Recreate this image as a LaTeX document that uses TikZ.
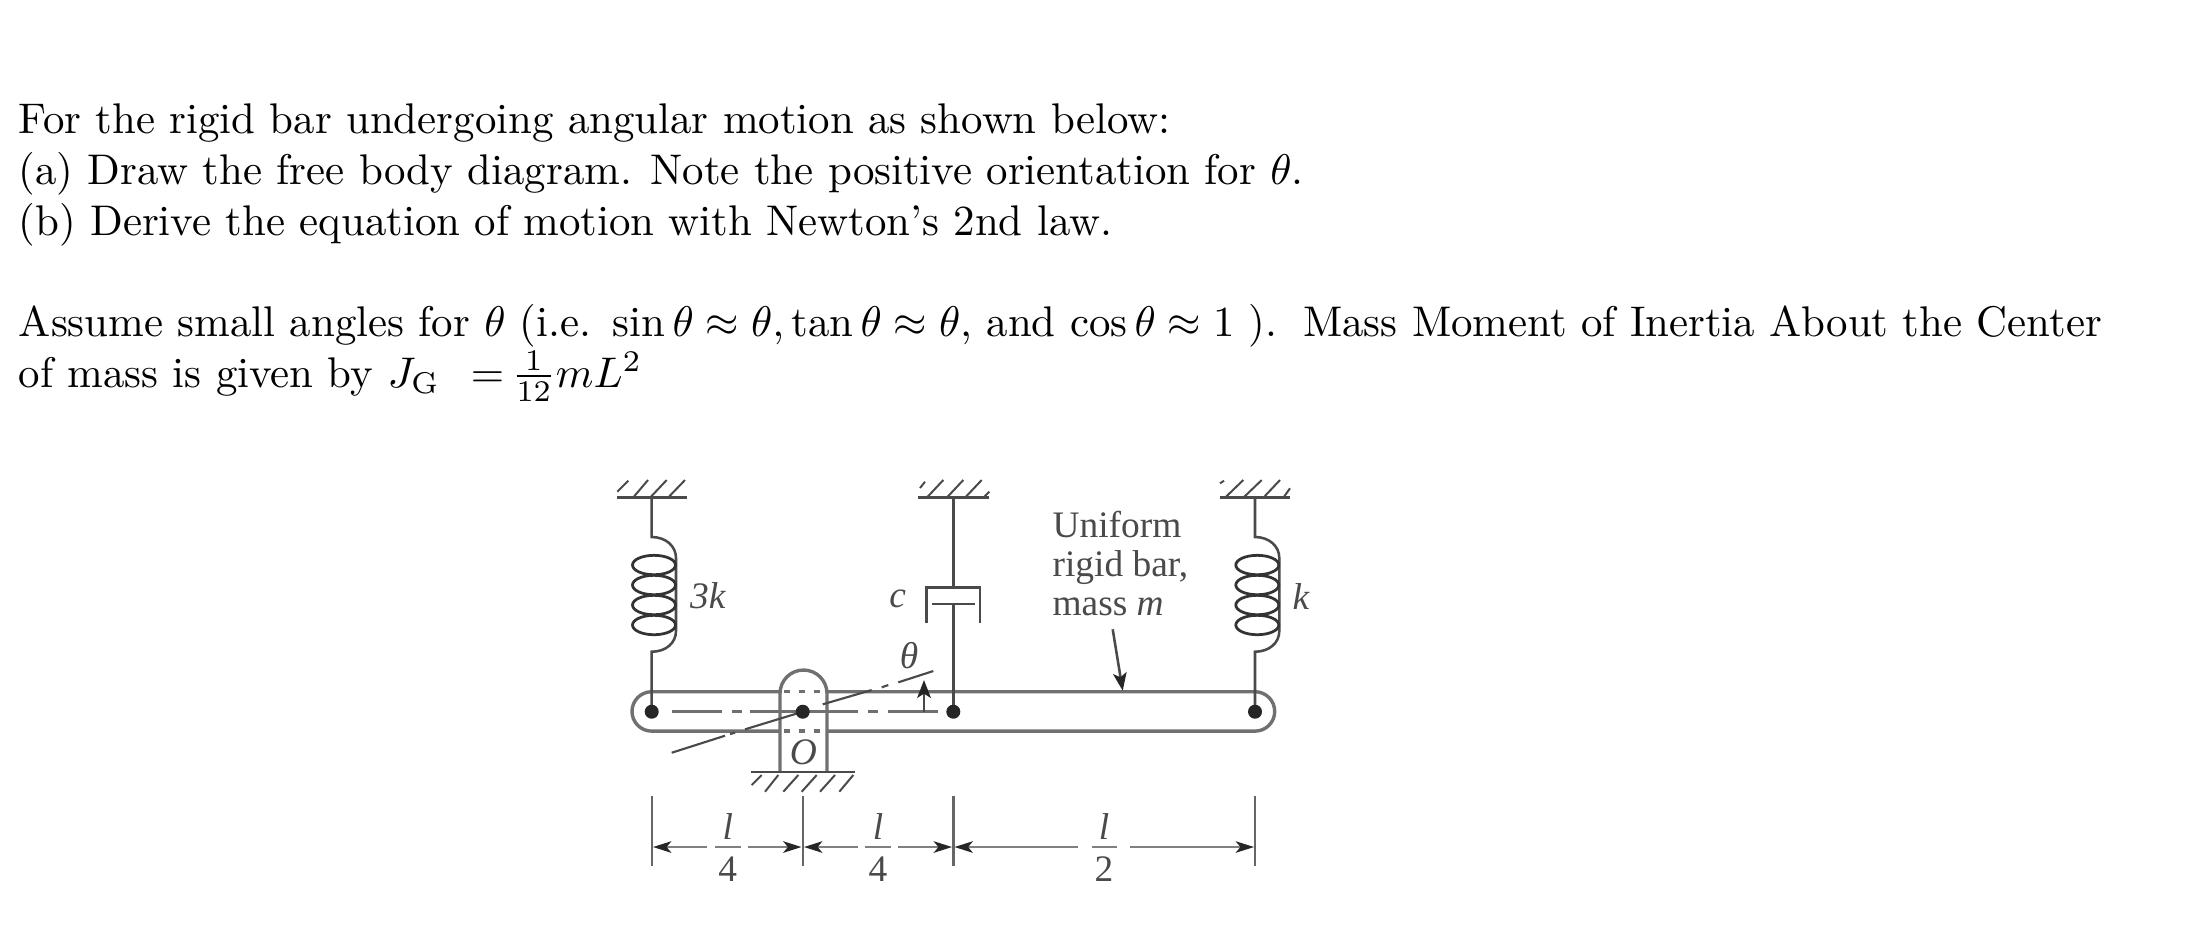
\documentclass[tikz,border=0pt]{standalone}
\usepackage{fontspec}
\newfontfamily\labfont{Liberation Serif}
\usetikzlibrary{arrows.meta}
\definecolor{ink}{HTML}{4A4A4A}
\definecolor{barline}{HTML}{707070}
\definecolor{dimline}{HTML}{808080}
\newcommand{\paratext}[1]{\scalebox{1.009}{#1}}
\tikzset{
  para/.style={anchor=base west,inner sep=0pt,text=black},
  lab/.style={inner sep=0pt,text=ink,font=\labfont\fontsize{8.8}{10}\selectfont},
  thin line/.style={draw=ink,line width=0.6pt},
  bar line/.style={draw=barline,line width=0.8pt},
  dim line/.style={draw=dimline,line width=0.56pt},
  dim arrow/.style={dim line,-{Stealth[length=4.3pt,width=2.7pt,inset=1.1pt,color=black!85]}},
  hatch/.style={draw=ink,line width=0.47pt},
  pin/.style={circle,fill=black!85,draw=none,minimum size=3.3pt,inner sep=0pt},
  coil/.style={draw=black!80,line width=0.65pt},
}
\begin{document}
\begin{tikzpicture}[x=0.23529pt,y=-0.23529pt]
\useasboundingbox (0,0) rectangle (2206,926);
% text
\node[para] (t1) at (18,133) {\paratext{For the rigid bar undergoing angular motion as shown below:}};
\node[para] (t2) at (18,184) {\paratext{(a) Draw the free body diagram.\hspace{0.43em}Note the positive orientation for $\theta$.}};
\node[para] (t3) at (18,235) {\paratext{(b) Derive the equation of motion with Newton's 2nd law.}};
\node[para] (t4) at (18,336) {\paratext{Assume small angles for $\theta$ (i.e.\hspace{0.5em}$\sin\theta\approx\theta,\tan\theta\approx\theta$, and $\cos\theta\approx 1$ ).\hspace{0.6em}Mass Moment of Inertia About the Center}};
\node[para] (t5) at (18,387) {\paratext{of mass is given by $J_{\mathrm{G}}\mkern2mu\ =\mkern-2mu\frac{1}{12}mL^2$}};
% key points
\coordinate (pa) at (651.7,711.7);
\coordinate (po) at (802.7,711.7);
\coordinate (pb) at (953.3,711.7);
\coordinate (pc) at (1255,711.7);
\coordinate (ca) at (651.7,497.7);
\coordinate (cb) at (953.3,497.7);
\coordinate (cc) at (1255,497.7);
% ceilings
\draw[thin line] (617,497.7) -- (687,497.7);
\draw[thin line] (918,497.7) -- (989,497.7);
\draw[thin line] (1220,497.7) -- (1290,497.7);
\foreach \a/\b/\c/\d in {617.3/491.7/628.3/480.7,633/497.7/648/480,650/497.7/666.7/480,668/497.7/685/480,
  920/488/925/481.7,926.7/497.7/943.3/480,946.7/497.7/963.3/480,965/497.7/981.7/480,983.3/497.7/989.3/491.7,
  1220/483.3/1224/480.7,1225/497.7/1243.3/480,1243.3/497.7/1261.7/480,1263.3/497.7/1280/480,1283.3/497.7/1290/488.3}
  \draw[hatch] (\a,\b) -- (\c,\d);
% bar
\draw[bar line] (780,691.7) -- (651.7,691.7) arc[start angle=270,end angle=90,radius=19.7] -- (780,731.1);
\draw[bar line] (827,691.7) -- (1255,691.7) arc[start angle=-90,end angle=90,radius=19.7] -- (827,731.1);
\draw[bar line,dash pattern=on 1.5pt off 2pt] (784,691.7) -- (825,691.7);
\draw[bar line,dash pattern=on 1.5pt off 2pt] (784,731.1) -- (825,731.1);
% bracket
\draw[bar line] (780,772) -- (780,693.5) arc[start angle=180,end angle=360,radius=23.5] -- (827,772);
\draw[thin line] (750.7,772) -- (855,772);
\foreach \a/\c/\bb/\cc in {751.7/761.7/785/775,765/778.3/791.7/775,783.3/798.3/791.7/775,801.7/816.7/791.7/775,820/835/791.7/775,839.3/853.3/791.7/775}
  \draw[hatch] (\a,\bb) -- (\c,\cc);
% centre line
\foreach \a/\b in {671.7/721.7,731.7/741.7,750/802.7,802.7/858.3,868.3/878.3,888.3/938}
  \draw[bar line] (\a,711.7) -- (\b,711.7);
% inclined line
\foreach \a/\b/\c/\d in {671.7/752.7/725/735.7,730/734/735/732.7,745/729.3/802.7/711.7,822.7/704.3/871.7/690,881.7/687.3/888.3/685,898.3/682.3/933.3/671}
  \draw[thin line,line width=0.5pt] (\a,\b) -- (\c,\d);
% springs
\foreach \p/\q in {pa/ca,pc/cc}{
  \draw[thin line] (\q) -- ++(0,39.3) .. controls +(14,0) and +(0,-12) .. ++(24.3,21)
     -- ++(0,73) .. controls +(0,12) and +(14,0) .. ++(-24.3,20.7) -- (\p);
  \foreach \yy in {565,585,605,625}
    \draw[coil] (\p) ++(2.3,\yy-711.7) ellipse[x radius=21.5,y radius=9.7];
}
% damper
\coordinate (dt) at (953.3,587.3);
\coordinate (dp) at (953.3,604);
\draw[thin line] (cb) -- (dt);
\draw[thin line] (dp) -- (pb);
\draw[thin line] (926.7,623) -- (926.7,587.3) -- (980,587.3) -- (980,623);
\draw[thin line] (931.7,604) -- (975,604);
% pins
\node[pin] (na) at (pa) {};
\node[pin] (no) at (po) {};
\node[pin] (nb) at (pb) {};
\node[pin] (nc) at (pc) {};
% theta arrow
\coordinate (th0) at (924,711.7);
\coordinate (th1) at (924,680);
\draw[thin line,-{Stealth[length=4.2pt,width=3.2pt,inset=1pt,color=black!85]}] (th0) -- (th1);
% labels
\node[lab] (l3k) at (707.7,596) {\itshape 3k};
\node[lab] (lc) at (897.7,599) {\itshape c};
\node[lab] (lk) at (1301,596) {\itshape k};
\node[lab] (lth) at (909,656) {\itshape θ};
\node[lab] (lO) at (803.3,752) {\itshape O};
\node[lab,anchor=base west] (u1) at (1051.7,537) {Uniform};
\node[lab,anchor=base west] (u2) at (1051.7,576) {rigid bar,};
\node[lab,anchor=base west] (u3) at (1051.7,615.7) {mass \itshape m};
\coordinate (ua) at (1112.7,629.3);
\coordinate (ub) at (1122.7,690.7);
\draw[thin line,-{Stealth[length=4.2pt,width=3.2pt,inset=1pt,color=black!85]}] (ua) -- (ub);
% dimensions
\foreach \x in {651.7,802.7,953.3,1255}
  \draw[dim line,draw=black!60] (\x,795.7) -- (\x,866);
\draw[dim arrow] (706.7,847) -- (653,847);
\draw[dim arrow] (748,847) -- (801.5,847);
\draw[dim arrow] (858,847) -- (804,847);
\draw[dim arrow] (898,847) -- (952,847);
\draw[dim arrow] (1078,847) -- (954.5,847);
\draw[dim arrow] (1130,847) -- (1254,847);
\draw[dim line] (715,847) -- (740.7,847);
\draw[dim line] (865,847) -- (890.7,847);
\draw[dim line] (1091.7,847) -- (1116.7,847);
\node[lab] (f1n) at (727.7,826) {\itshape l};
\node[lab] (f1d) at (727.7,869) {4};
\node[lab] (f2n) at (878,826) {\itshape l};
\node[lab] (f2d) at (878,869) {4};
\node[lab] (f3n) at (1104,826) {\itshape l};
\node[lab] (f3d) at (1104,869) {2};
\end{tikzpicture}
\end{document}
